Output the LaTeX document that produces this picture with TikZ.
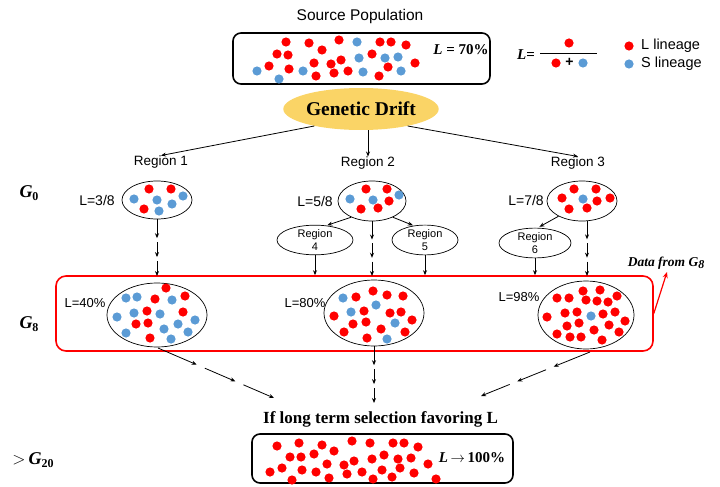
\documentclass[tikz,border=0pt]{standalone}
\usepackage{fontspec}
\usepackage{amsmath}
\setmainfont{Liberation Serif}
\setsansfont{Liberation Sans}
\usetikzlibrary{shapes.geometric,arrows.meta,calc}
\definecolor{lred}{HTML}{FF0000}
\definecolor{sblue}{HTML}{5B9BD5}
\definecolor{driftc}{HTML}{FAD466}
\tikzset{
  arr/.style={-{Stealth[length=5pt,width=4pt]}, line width=0.8pt},
  ell/.style={ellipse, draw, line width=0.7pt, inner sep=0pt},
  lbl/.style={font=\sffamily\fontsize{13.5}{15}\selectfont, inner sep=0pt},
  gen/.style={font=\sffamily\fontsize{14}{15}\selectfont, inner sep=0pt},
  pct/.style={font=\sffamily\fontsize{13}{15}\selectfont, inner sep=0pt},
  subreg/.style={ellipse, draw, line width=0.7pt, inner sep=0pt, align=center,
                 font=\sffamily\fontsize{11}{13}\selectfont},
  glab/.style={font=\bfseries\fontsize{18}{20}\selectfont, inner sep=0pt},
  popbox/.style={draw, line width=1.6pt, rounded corners=8pt, inner sep=0pt},
}
\newcommand\BI[1]{{\bfseries\itshape #1}}
\newcommand\Gsub[1]{\BI{G}\raisebox{-0.3ex}{\fontsize{12}{13}\selectfont\bfseries #1}}
\newcommand\reddots[1]{\foreach \x/\y in {#1} \fill[lred] (\x,\y) circle[radius=4.6pt];}
\newcommand\bluedots[1]{\foreach \x/\y in {#1} \fill[sblue] (\x,\y) circle[radius=4.6pt];}
\newcommand\arrowchain[3]{%
  \foreach \k in {1,...,#3}{%
    \pgfmathsetmacro\fa{(\k-1)/#3+ifthenelse(\k>1,0.07,0)}%
    \pgfmathsetmacro\fb{\k/#3}%
    \draw[arr] ($(#1)!\fa!(#2)$) -- ($(#1)!\fb!(#2)$);
  }}
\begin{document}
\begin{tikzpicture}[x=1pt,y=-1pt]
\useasboundingbox (0,0) rectangle (720,487);

% ---- source population ----
\node[font=\sffamily\fontsize{15.5}{17}\selectfont, inner sep=0pt] (srctitle) at (360,16) {Source Population};
\node[popbox, minimum width=257pt, minimum height=51pt] (src) at (361.5,58.5) {};
\node[font=\bfseries\fontsize{15}{16}\selectfont, inner sep=0pt] (srcL) at (461,50) {\BI{L} = 70\%};
\reddots{286/42,309/43,339/40,380/42,391/42,406/45,322/50,277/54,288/55,372/54,269/66,289/69,314/63,331/64,341/60,388/67,415/63,316/76,334/73,348/71,379/76}
\bluedots{357/42,359/58,385/58,398/57,257/71,303/71,363/72,401/71,279/79}

% ---- legend ----
\node[font=\bfseries\fontsize{15}{16}\selectfont, inner sep=0pt] (legL) at (526,55) {\BI{L}=};
\draw[line width=0.8pt] (540,53) -- (597,53);
\reddots{569/43,556/63}
\node[font=\sffamily\bfseries\fontsize{14}{15}\selectfont, inner sep=0pt] (plus) at (569.5,62) {+};
\bluedots{583/63}
\reddots{629/46}
\bluedots{629/64}
\node[gen, anchor=west, font=\sffamily\fontsize{14.5}{16}\selectfont] (legR) at (641,46) {L lineage};
\node[gen, anchor=west, font=\sffamily\fontsize{14.5}{16}\selectfont] (legS) at (641,64) {S lineage};

% ---- genetic drift ----
\node[ellipse, fill=driftc, minimum width=152pt, minimum height=42pt, inner sep=0pt,
      font=\bfseries\fontsize{19.5}{21}\selectfont] (drift) at (361,109) {Genetic Drift};

% ---- regions ----
\node[lbl] (reg1) at (161,162) {Region 1};
\node[lbl] (reg2) at (368,163) {Region 2};
\node[lbl] (reg3) at (578,163) {Region 3};
\draw[arr] (drift.200) -- (reg1.north);
\draw[arr] (drift.south -| reg2.north) -- (reg2.north);
\draw[arr] (drift.-20) -- (reg3.north);

% ---- generation labels ----
\node[glab] (g0) at (29,193) {\Gsub{0}};
\node[glab] (g8) at (29,324) {\Gsub{8}};
\node[glab] (g20) at (33,460) {$>$\,\Gsub{20}};

% ---- G0 ellipses ----
\node[ell, minimum width=70pt, minimum height=38pt] (r1) at (157,200) {};
\node[ell, minimum width=68pt, minimum height=40pt] (r2) at (372,201) {};
\node[ell, minimum width=70pt, minimum height=40pt] (r3) at (582,201) {};
\node[gen] (p1) at (97,200) {L=3/8};
\node[gen] (p2) at (315,201) {L=5/8};
\node[gen] (p3) at (526,200) {L=7/8};
\reddots{149/189,171/189,144/209}
\bluedots{134/199,157/200,172/204,183/196,159/211}
\reddots{366/189,387/189,389/201,361/209,378/208}
\bluedots{350/199,373/200,399/195}
\reddots{574/189,596/189,562/198,597/201,610/198,569/209,587/208}
\bluedots{583/199}

% ---- sub regions ----
\node[subreg, minimum width=76pt, minimum height=28pt] (r4) at (315,240) {Region\\4};
\node[subreg, minimum width=66pt, minimum height=28pt] (r5) at (425,240) {Region\\5};
\node[subreg, minimum width=72pt, minimum height=26pt] (r6) at (535,243) {Region\\6};
\draw[arr, shorten >=1pt] (r2.218) -- (r4.52);
\draw[arr, shorten >=1pt] (r2.-38) -- (r5.128);
\draw[arr, shorten >=2pt] (r3.213) -- (r6.80);

% ---- G8 box ----
\node[draw=lred, line width=1.6pt, rounded corners=10pt, minimum width=597pt, minimum height=75pt, inner sep=0pt] (box8) at (354.5,313.5) {};
\coordinate (c1) at (157,276);
\coordinate (c2) at (372,276);
\coordinate (r3b) at (587,221);
\coordinate (c3) at (587,276);
\arrowchain{r1.south}{c1}{3}
\arrowchain{r2.south}{c2}{3}
\arrowchain{r3b}{c3}{3}
\draw[arr] (r4.south) -- (r4.south |- box8.north);
\draw[arr] (r5.south) -- (r5.south |- box8.north);
\draw[arr] (r6.south) -- (r6.south |- box8.north);

% ---- G8 ellipses ----
\node[ell, minimum width=100pt, minimum height=64pt] (e1) at (157,315) {};
\node[ell, minimum width=100pt, minimum height=66pt] (e2) at (374,313) {};
\node[ell, minimum width=96pt, minimum height=68pt] (e3) at (586,315) {};
\node[pct] (q1) at (85,303) {L=40\%};
\node[pct] (q2) at (305,303) {L=80\%};
\node[pct] (q3) at (519,297) {L=98\%};
\reddots{166/288,155/299,185/296,147/311,183/312,136/324,148/323,150/338}
\bluedots{126/298,137/297,172/300,117/317,134/313,160/314,195/320,178/324,164/329,126/333,188/332,171/339}
\reddots{373/291,356/297,387/295,403/296,364/311,390/313,401/312,334/316,412/320,353/324,366/322,344/332,381/329,405/332,367/338}
\bluedots{343/298,376/305,351/312,395/323,387/339}
\reddots{557/298,569/298,583/291,586/300,600/290,597/301,608/302,617/296,547/317,565/313,577/312,603/314,615/312,625/321,567/326,579/323,594/330,609/325,619/332,557/334,570/337,581/337,602/340}
\bluedots{591/316}

% ---- data from G8 ----
\node[font=\bfseries\itshape\fontsize{13.5}{15}\selectfont, inner sep=0pt] (data) at (666,263) {Data from \Gsub{8}};
\draw[lred, line width=1.2pt, -{Stealth[length=6pt,width=5pt]}] (box8.east) -- (667,272);

% ---- toward long term ----
\node[font=\bfseries\fontsize{17}{19}\selectfont, inner sep=0pt] (sel) at (380.5,419) {If long term selection favoring L};
\coordinate (s1) at (158,348);
\coordinate (t1) at (274,398);
\coordinate (t2) at (374,403);
\coordinate (s3) at (590,352);
\coordinate (t3) at (481,396);
\arrowchain{s1}{t1}{3}
\arrowchain{e2.south}{t2}{3}
\arrowchain{s3}{t3}{3}

% ---- final population ----
\node[popbox, minimum width=261pt, minimum height=49pt] (fin) at (382.5,458.5) {};
\node[font=\bfseries\fontsize{15}{16}\selectfont, inner sep=0pt] (finL) at (472,458) {\BI{L}\,$\rightarrow$\,100\%};
\reddots{277/446,299/443,322/445,352/441,370/443,393/443,404/443,418/447,290/457,301/457,314/454,334/451,354/461,372/459,384/455,398/459,411/458,428/464,270/472,282/468,302/470,316/472,327/464,344/465,362/472,382/470,400/468,414/473,292/480,329/478,347/474,373/479,392/477,436/479}
\end{tikzpicture}
\end{document}
